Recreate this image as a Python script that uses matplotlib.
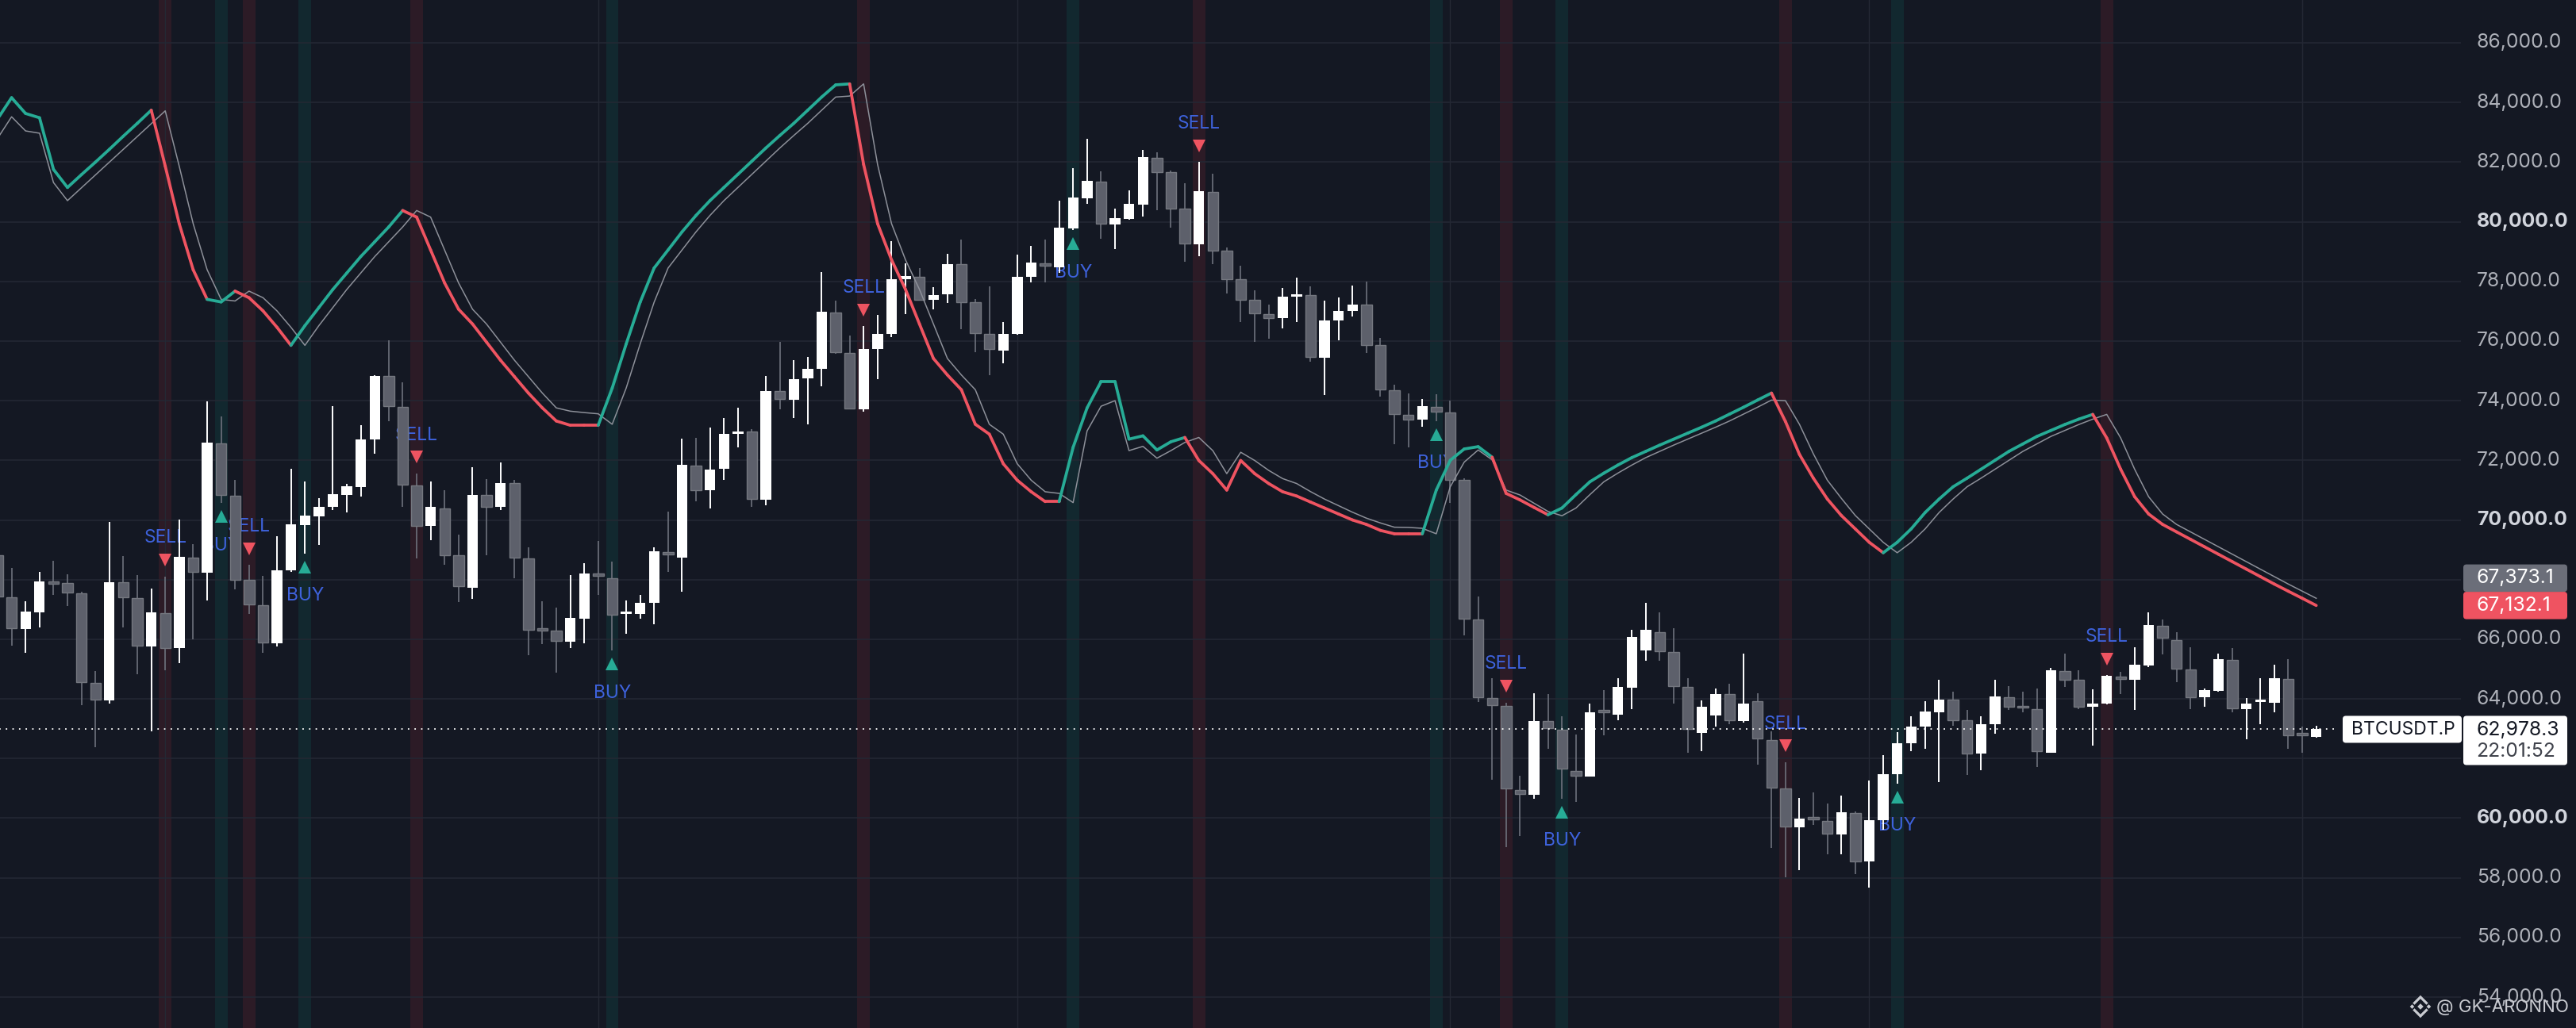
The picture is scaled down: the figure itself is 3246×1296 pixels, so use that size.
import numpy as np
import matplotlib.pyplot as plt
from matplotlib.collections import LineCollection
from matplotlib.patches import FancyBboxPatch, Polygon

plt.rcParams['font.family'] = ['Inter', 'DejaVu Sans']

W, H, DPI = 3246, 1296, 100
PLOT_W = 3101

# ---- data (daily bars, first bar index = -1) ----
first_bar = -1
opens = [68820, 67407, 66348, 66911, 67950, 67882, 67550, 64540, 63944, 67904,
         67385, 65764, 66867, 65698, 68742, 68235, 72568, 70803, 67992, 67143,
         65863, 68323, 69834, 70120, 70450, 70836, 71112, 72711, 74818, 73792,
         71167, 69812, 70395, 68819, 67738, 70836, 70450, 71244, 68709, 66315,
         66282, 65919, 66690, 68180, 68047, 66856, 66856, 67220, 68900, 68731,
         71829, 71002, 71718, 72877, 72954, 70671, 74333, 74035, 74752, 75060,
         76957, 75612, 73704, 75744, 76240, 78083, 78149, 77376, 77564, 78590,
         77310, 76240, 75689, 76240, 78149, 78612, 78480, 79770, 80796, 81348,
         79903, 80101, 80575, 82142, 81667, 80432, 79252, 81006, 79020, 78060,
         77376, 76902, 76759, 77486, 77542, 75447, 76682, 77001, 77233, 75855,
         74343, 73516, 73373, 73780, 73593, 71332, 66668, 64021, 63767, 60933,
         60789, 63249, 62973, 61573, 61407, 63580, 63469, 64385, 65632, 66226,
         65577, 64407, 62863, 63436, 64154, 63260, 63911, 62620, 60988, 59697,
         59990, 59918, 59466, 60160, 58545, 59940, 61462, 62499, 63061, 63547,
         63966, 63282, 62179, 63138, 64054, 63745, 63668, 62201, 64925, 64650,
         63723, 63855, 64690, 64628, 65124, 66447, 65973, 64992, 64054, 64275,
         65312, 63668, 63900, 63878, 64661, 62800, 62730]
highs = [69100, 68378, 67275, 68246, 68620, 68180, 67600, 64925, 69944, 68786,
         68158, 67694, 68102, 70010, 69183, 73980, 73483, 71332, 68488, 68124,
         69459, 71718, 71277, 70727, 73814, 71222, 73186, 74860, 76020, 74620,
         71553, 71277, 71002, 69503, 71773, 71365, 71938, 71354, 69095, 67275,
         67055, 68158, 68543, 69282, 68598, 67297, 67495, 69095, 70284, 72733,
         72766, 73097, 73406, 73758, 73042, 74840, 75965, 75358, 75468, 78303,
         77343, 76186, 76494, 76880, 79362, 78612, 78447, 77806, 78921, 79406,
         77420, 77840, 76627, 78888, 79186, 79406, 80708, 81789, 82781, 81678,
         80432, 81039, 82417, 82329, 81722, 81293, 82000, 81612, 79142, 78524,
         77707, 77233, 77784, 78137, 77840, 77343, 77454, 77862, 78005, 76097,
         74531, 74255, 74068, 74222, 74002, 71400, 67440, 64683, 63878, 61429,
         64187, 64164, 63414, 62807, 63833, 64297, 64683, 66303, 67220, 66900,
         66370, 64683, 63944, 64341, 64518, 65531, 64176, 62900, 61871, 60679,
         60855, 60491, 60745, 60216, 61263, 62113, 62885, 63414, 63911, 64628,
         64242, 63635, 63414, 64628, 64430, 64242, 64352, 65047, 65510, 64959,
         64319, 64793, 64904, 65730, 66911, 66668, 66227, 65731, 64352, 65510,
         65697, 64021, 64683, 65146, 65345, 63083, 63100]
lows = [67300, 65786, 65532, 66392, 67495, 67110, 63800, 62367, 63834, 66392,
        64826, 62918, 64958, 65200, 66006, 67297, 70560, 67660, 66856, 65532,
        65753, 68250, 68874, 69150, 70340, 70262, 70781, 72214, 73318, 70450,
        68709, 69315, 68488, 67253, 67363, 68819, 70340, 68047, 65455, 65841,
        64881, 65709, 65863, 67495, 65620, 66194, 66701, 66503, 68246, 67606,
        70615, 70394, 71354, 72435, 70450, 70505, 73704, 73428, 73208, 74476,
        75578, 73704, 73627, 74729, 76130, 76902, 77343, 77067, 77288, 76406,
        75634, 74862, 75248, 76207, 77972, 77972, 78281, 79715, 80597, 79439,
        79075, 80068, 80178, 80399, 79793, 78667, 78855, 78590, 77586, 76649,
        75965, 76075, 76428, 76649, 75303, 74200, 76020, 76825, 75612, 74145,
        72545, 72435, 73120, 73318, 70560, 66117, 63900, 61297, 59024, 59388,
        60657, 62334, 60657, 60546, 61400, 62775, 63292, 63646, 65279, 65290,
        63833, 62180, 62233, 63071, 63149, 63200, 61804, 59000, 58009, 58250,
        59775, 58782, 58782, 58120, 57680, 59600, 61153, 62256, 62334, 61208,
        63100, 61451, 61595, 62840, 63635, 63546, 61705, 62180, 64407, 63657,
        62444, 63823, 64164, 63635, 65069, 65488, 64550, 63668, 63723, 64242,
        63558, 62642, 63138, 63546, 62333, 62201, 62700]
closes = [67440, 66370, 66922, 67937, 67870, 67573, 64550, 63966, 67915, 67407,
          65786, 66889, 65709, 68764, 68246, 72600, 70836, 67992, 67165, 65896,
          68323, 69845, 70143, 70450, 70858, 71134, 72711, 74818, 73814, 71189,
          69812, 70450, 68819, 67771, 70836, 70450, 71244, 68731, 66315, 66300,
          65951, 66723, 68213, 68130, 66811, 66900, 67220, 68951, 68840, 71851,
          71002, 71685, 72877, 72965, 70693, 74333, 74068, 74730, 75060, 76979,
          75634, 73726, 75744, 76240, 78083, 78170, 77376, 77531, 78590, 77310,
          76273, 75722, 76240, 78149, 78634, 78524, 79803, 80818, 81370, 79936,
          80123, 80597, 82164, 81667, 80432, 79274, 81017, 79032, 78060, 77376,
          76935, 76759, 77486, 77541, 75469, 76682, 77012, 77233, 75855, 74365,
          73538, 73373, 73814, 73626, 71332, 66701, 64054, 63800, 60988, 60822,
          63249, 63006, 61650, 61429, 63558, 63550, 64407, 66083, 66325, 65599,
          64430, 63000, 63734, 64154, 63282, 63845, 62664, 61010, 59719, 59995,
          59970, 59477, 60193, 58561, 59940, 61462, 62499, 63083, 63580, 63988,
          63282, 62179, 63138, 64077, 63723, 63700, 62234, 64959, 64650, 63723,
          63855, 64760, 64680, 65157, 66470, 66039, 65014, 64054, 64297, 65323,
          63690, 63833, 63910, 64683, 62786, 62775, 62978.3]

# trend line (coloured) and its lagging companion (grey)
trend_line = [83450, 84160, 83631, 83487, 81755, 81149, 81579, 81998, 82428, 82870,
              83300, 83741, 81866, 79936, 78391, 77398, 77310, 77674, 77453, 77012,
              76461, 75855, 76516, 77123, 77730, 78281, 78833, 79329, 79825, 80377,
              80156, 79053, 77950, 77067, 76571, 75965, 75358, 74806, 74255, 73758,
              73318, 73175, 73175, 73175, 74420, 75900, 77300, 78447, 79053, 79660,
              80211, 80708, 81149, 81590, 82031, 82472, 82892, 83300, 83741, 84182,
              84590, 84623, 81921, 79936, 78722, 77730, 76571, 75414, 74862, 74366,
              73208, 72877, 71884, 71332, 70946, 70615, 70615, 72435, 73758, 74641,
              74641, 72711, 72821, 72347, 72622, 72766, 71994, 71553, 71002, 71994,
              71553, 71222, 70946, 70803, 70600, 70400, 70200, 70000, 69850, 69650,
              69536, 69536, 69536, 71000, 72000, 72380, 72458, 72105, 70891, 70670,
              70420, 70174, 70400, 70850, 71280, 71570, 71840, 72090, 72300, 72510,
              72710, 72910, 73110, 73320, 73550, 73780, 74020, 74255, 73300, 72200,
              71400, 70700, 70150, 69700, 69250, 68900, 69250, 69700, 70250, 70700,
              71112, 71400, 71700, 72000, 72300, 72550, 72800, 73000, 73200, 73380,
              73540, 72750, 71700, 70780, 70200, 69850, 69600, 69350, 69100, 68850,
              68600, 68350, 68100, 67850, 67610, 67373, 67132.1]
lag_line = [82800, 83520, 83046, 82969, 81314, 80708, 81138, 81568, 81998, 82428,
            82859, 83289, 83719, 81866, 79936, 78391, 77398, 77343, 77674, 77453,
            77012, 76461, 75855, 76516, 77123, 77730, 78281, 78833, 79329, 79825,
            80377, 80156, 79053, 77950, 77067, 76571, 75965, 75358, 74806, 74255,
            73758, 73648, 73600, 73560, 73208, 74420, 75900, 77300, 78447, 79053,
            79660, 80211, 80708, 81149, 81590, 82031, 82472, 82892, 83300, 83741,
            84182, 84215, 84623, 81921, 79936, 78722, 77730, 76571, 75414, 74862,
            74366, 73208, 72877, 71884, 71332, 70946, 70891, 70582, 72986, 73813,
            74001, 72325, 72468, 72071, 72325, 72600, 72766, 72325, 71553, 72270,
            71994, 71663, 71387, 71222, 70950, 70700, 70480, 70260, 70060, 69900,
            69757, 69750, 69720, 69536, 71112, 71939, 72347, 72016, 71002, 70836,
            70560, 70285, 70141, 70400, 70850, 71280, 71570, 71840, 72090, 72300,
            72510, 72710, 72910, 73110, 73320, 73550, 73780, 74020, 74000, 73208,
            72215, 71332, 70726, 70150, 69700, 69250, 68900, 69250, 69700, 70250,
            70700, 71112, 71400, 71700, 72000, 72300, 72550, 72800, 73000, 73200,
            73380, 73540, 72750, 71700, 70780, 70200, 69850, 69600, 69350, 69100,
            68850, 68600, 68350, 68100, 67850, 67610, 67373.1]

buy_bars = [15, 21, 43, 76, 102, 111, 135]
sell_bars = [11, 17, 29, 61, 85, 107, 127, 150]
month_starts = [11, 42, 72, 103, 133, 164]
price_ticks = list(range(54000, 88000, 2000))
symbol = 'BTCUSDT.P'
countdown = '22:01:52'
watermark = '@ GK-ARONNO'

# ---- style ----
BG = '#141823'
GRID = '#242834'
TEAL = '#27ac96'
RED = '#ef5461'
DOWN = '#5d606b'
BLUE = '#3e62dc'

o = np.array(opens, float)
h = np.array(highs, float)
l = np.array(lows, float)
c = np.array(closes, float)
idx = np.arange(first_bar, first_bar + len(o))
up = c >= o

fig = plt.figure(figsize=(W / DPI, H / DPI), dpi=DPI, facecolor=BG)
ax = fig.add_axes([0, 0, PLOT_W / W, 1])
ax.set_facecolor(BG)
ax.set_xlim(-0.83, 175.36)
ax.set_ylim(52963, 87436)
for s in ax.spines.values():
    s.set_visible(False)
ax.set_xticks([])
ax.set_yticks([])

# grid
ax.hlines(price_ticks, -1, 180, colors=GRID, lw=1.1, zorder=0.5)
for k in month_starts:
    ax.axvline(k, color=GRID, lw=1.0, zorder=0.5)

# signal bands
for k in sell_bars:
    ax.axvspan(k - 0.45, k + 0.45, color='#f23645', alpha=0.11, lw=0, zorder=0.3)
for k in buy_bars:
    ax.axvspan(k - 0.45, k + 0.45, color='#089981', alpha=0.13, lw=0, zorder=0.3)

# candles
body_lo = np.minimum(o, c)
body_h = np.maximum(np.abs(c - o), 70)
ax.vlines(idx[up], l[up], h[up], colors='white', lw=1.4, zorder=3)
ax.vlines(idx[~up], l[~up], h[~up], colors='#6e717c', lw=1.2, zorder=3)
ax.bar(idx[up], body_h[up], bottom=body_lo[up], width=0.76, color='white',
       linewidth=0, zorder=4)
ax.bar(idx[~up], body_h[~up], bottom=body_lo[~up], width=0.76, color=DOWN,
       edgecolor='#74777f', linewidth=1.0, zorder=4)

# signal markers and labels (labels sit behind the candles)
for k in sell_bars:
    top = h[k - first_bar]
    ax.plot(k, top + 550, marker='v', ms=12, color=RED, mew=0, zorder=5)
    ax.text(k, top + 1290, 'SELL', color=BLUE, fontsize=16.4, ha='center',
            va='center', zorder=2)
for k in buy_bars:
    bot = l[k - first_bar]
    ax.plot(k, bot - 450, marker='^', ms=12, color=TEAL, mew=0, zorder=5)
    ax.text(k, bot - 1420, 'BUY', color=BLUE, fontsize=16.4, ha='center',
            va='center', zorder=2)

# lagging grey line
ax.plot(idx, lag_line, color='#8d9099', lw=1.1, zorder=6)

# coloured trend line, colour switches on signals
state = []
cur = 1
for k in idx:
    if k in buy_bars:
        cur = 1
    if k in sell_bars:
        cur = -1
    state.append(cur)
pts = np.column_stack([idx, trend_line])
segs = np.stack([pts[:-1], pts[1:]], axis=1)
seg_cols = [TEAL if s > 0 else RED for s in state[1:]]
lc = LineCollection(segs, colors=seg_cols, linewidths=2.7, capstyle='round',
                    joinstyle='round', zorder=7)
ax.add_collection(lc)

# last price dotted line
last_price = c[-1]
ax.hlines(last_price, -1, idx[-1] + 1.6, colors='white', lw=1.3,
          linestyles=(0, (1, 3.6)), zorder=8)

# ---- overlay in pixel coords for the price scale and labels ----
ov = fig.add_axes([0, 0, 1, 1], zorder=10)
ov.set_xlim(0, W)
ov.set_ylim(H, 0)
ov.axis('off')


def py(price):
    return H - ax.transData.transform((0, price))[1]


def box(x0, y0, w, hgt, col, z=5):
    ov.add_patch(FancyBboxPatch((x0, y0), w, hgt,
                                boxstyle='round,pad=0,rounding_size=4',
                                fc=col, ec='none', zorder=z))


LBL = 17.8
bh = 34.5

# label boxes on the price scale
red_y = py(trend_line[-1])
gray_y = red_y - bh
lp_y = py(last_price)
covered = [(gray_y - bh / 2, red_y + bh / 2), (lp_y - 17, lp_y + 45)]

box(3104, red_y - bh / 2, 131, bh, '#ef5361')
ov.text(3120, red_y, f'{trend_line[-1]:,.1f}', fontsize=LBL, color='white',
        ha='left', va='center', zorder=6)
box(3104, gray_y - bh / 2, 131, bh, '#6b6e79')
ov.text(3120, gray_y, f'{lag_line[-1]:,.1f}', fontsize=LBL, color='white',
        ha='left', va='center', zorder=6)

box(3104, lp_y - 17, 131, 62, 'white')
ov.text(3120, lp_y + 1, f'{last_price:,.1f}', fontsize=LBL, color='#131722',
        ha='left', va='center', zorder=6)
ov.text(3120, lp_y + 28, countdown, fontsize=LBL, color='#40434c',
        ha='left', va='center', zorder=6)
box(2952, lp_y - 17, 150, 34, 'white')
ov.text(2963, lp_y + 1, symbol, fontsize=16.5, color='#131722',
        ha='left', va='center', zorder=6)

# price scale ticks (those hidden under the label boxes are not drawn)
for p in price_ticks:
    yy = py(p)
    if any(a - 8 < yy < b + 8 for a, b in covered):
        continue
    bold = p % 10000 == 0
    ov.text(3121, yy, f'{p:,.1f}', fontsize=LBL, ha='left', va='center',
            color='#d1d4dc' if bold else '#aeb1b9',
            fontweight='bold' if bold else 'normal', zorder=1)

# watermark with a small diamond logo
WM = '#c9cbd1'
ov.text(3237, 1270, watermark, fontsize=16, color=WM, ha='right',
        va='center', zorder=6)
cx, cy = 3050, 1269
for dx, dy, r in [(0, 0, 3.8), (-10.5, 0, 2.8), (10.5, 0, 2.8)]:
    ov.add_patch(Polygon([(cx + dx, cy + dy - r), (cx + dx + r, cy + dy),
                          (cx + dx, cy + dy + r), (cx + dx - r, cy + dy)],
                         closed=True, fc=WM, ec='none', zorder=6))
for sgn in (-1, 1):
    ov.plot([cx - 7.5, cx, cx + 7.5],
            [cy + sgn * 4.5, cy + sgn * 12, cy + sgn * 4.5],
            color=WM, lw=2.3, solid_joinstyle='miter', zorder=6)

fig.savefig('out.png', dpi=DPI, facecolor=BG)
